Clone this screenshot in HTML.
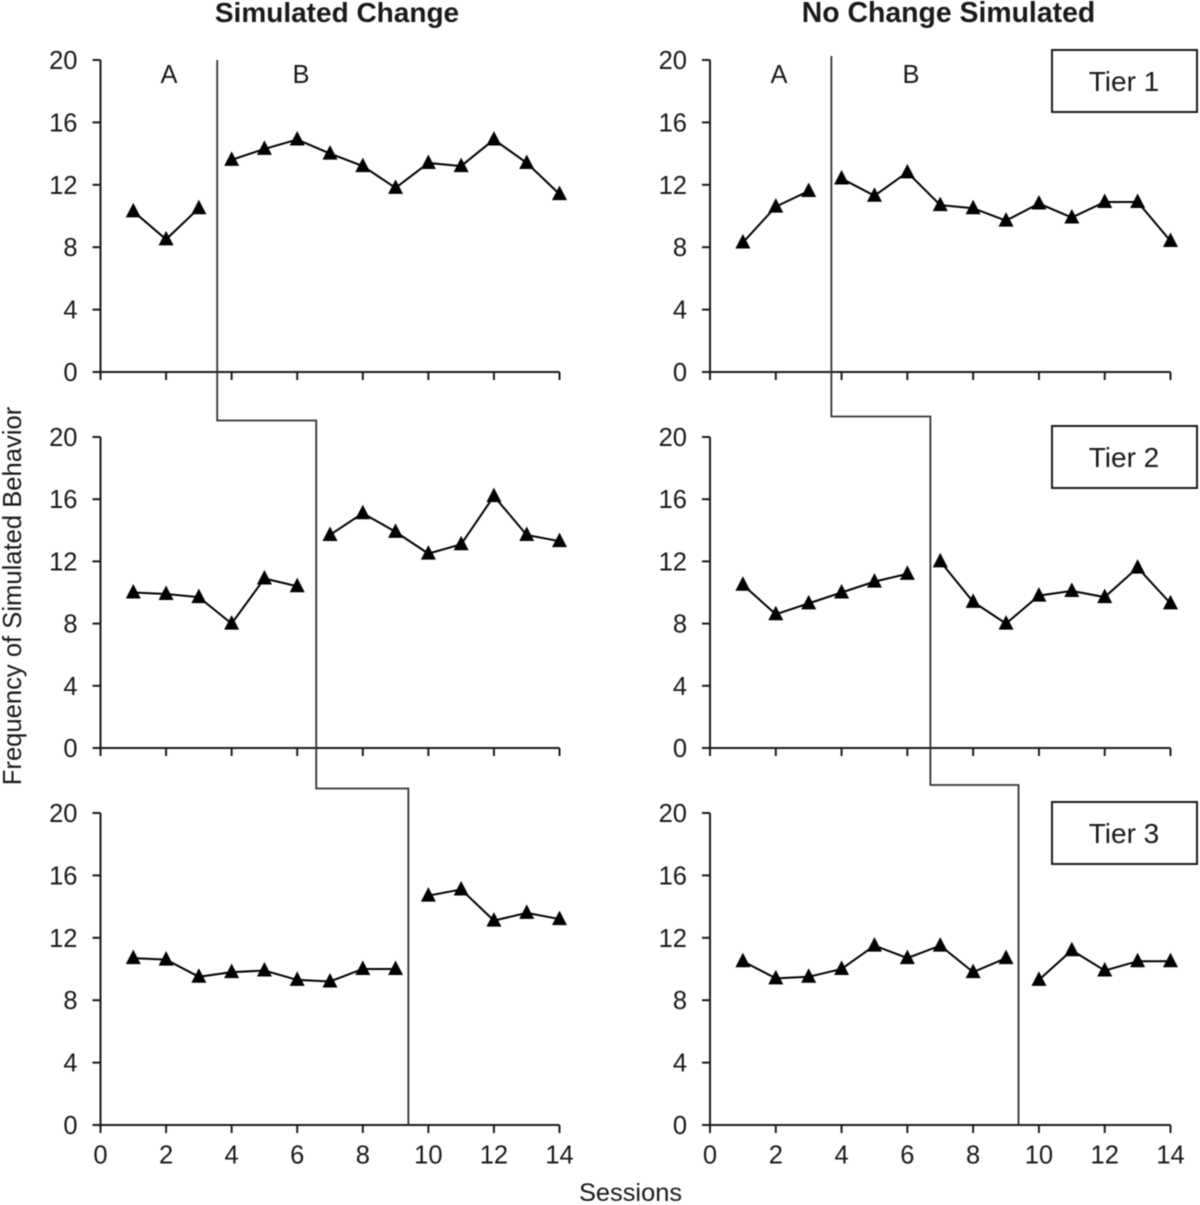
<!DOCTYPE html>
<html lang="en">
<head>
<meta charset="utf-8">
<title>Multiple baseline chart</title>
<style>
html,body{margin:0;padding:0;background:#fff;}
svg{display:block;filter:blur(0.4px);}
text{font-family:"Liberation Sans",Arial,sans-serif;fill:#1a1a1a;}
</style>
</head>
<body>
<svg id="chart" xmlns="http://www.w3.org/2000/svg" width="1200" height="1205" viewBox="0 0 1200 1205">
<rect x="0" y="0" width="1200" height="1205" fill="#fff"/>
<text x="337" y="22" font-size="28" font-weight="bold" text-anchor="middle">Simulated Change</text>
<text x="948.5" y="22" font-size="28.4" font-weight="bold" text-anchor="middle">No Change Simulated</text>
<text transform="translate(21,596) rotate(-90)" font-size="25.6" text-anchor="middle">Frequency of Simulated Behavior</text>
<text x="630.5" y="1201" font-size="25.4" text-anchor="middle">Sessions</text>
<g><rect x="1052" y="50" width="145" height="62" fill="#fff" stroke="#1a1a1a" stroke-width="2"/><text x="1124" y="91" font-size="28" text-anchor="middle">Tier 1</text></g>
<g><rect x="1052" y="426" width="145" height="62" fill="#fff" stroke="#1a1a1a" stroke-width="2"/><text x="1124" y="467" font-size="28" text-anchor="middle">Tier 2</text></g>
<g><rect x="1052" y="802" width="145" height="62" fill="#fff" stroke="#1a1a1a" stroke-width="2"/><text x="1124" y="843" font-size="28" text-anchor="middle">Tier 3</text></g>
<text x="169" y="83" font-size="25.5" text-anchor="middle">A</text>
<text x="301" y="83" font-size="25.5" text-anchor="middle">B</text>
<text x="779" y="83" font-size="25.5" text-anchor="middle">A</text>
<text x="911" y="83" font-size="25.5" text-anchor="middle">B</text>
</svg>
<script>
const sessions = [1,2,3,4,5,6,7,8,9,10,11,12,13,14];
const xTicks = [0,2,4,6,8,10,12,14];
const yTicks = [0,4,8,12,16,20];

const leftTier1 = [10.3,8.5,10.5,13.6,14.3,14.9,14.0,13.2,11.8,13.4,13.2,14.9,13.4,11.4];
const leftTier2 = [10.0,9.9,9.7,8.0,10.9,10.4,13.7,15.1,13.9,12.5,13.1,16.2,13.7,13.3];
const leftTier3 = [10.7,10.6,9.5,9.8,9.9,9.3,9.2,10.0,10.0,14.7,15.1,13.1,13.6,13.2];
const rightTier1 = [8.3,10.6,11.6,12.4,11.3,12.8,10.7,10.5,9.7,10.8,9.9,10.9,10.9,8.4];
const rightTier2 = [10.5,8.6,9.3,10.0,10.7,11.2,12.0,9.4,8.0,9.8,10.1,9.7,11.6,9.3];
const rightTier3 = [10.5,9.4,9.5,10.0,11.5,10.7,11.5,9.8,10.7,9.3,11.2,9.9,10.5,10.5];

// number of baseline sessions per tier, and where each phase line falls on the session axis
const baselineLengths = [3,6,9];
const leftPhaseLines = [3.56,6.58,9.39];
const rightPhaseLines = [3.69,6.7,9.38];

const svg = document.getElementById('chart');
const NS = 'http://www.w3.org/2000/svg';
const INK = '#1a1a1a';
const columns = [{side:'left', x0:100.5, x14:559.5, top:60, phase:leftPhaseLines, drop:[420.5,788.5], series:[leftTier1,leftTier2,leftTier3]},
                 {side:'right', x0:710, x14:1170.5, top:56, phase:rightPhaseLines, drop:[416.5,785], series:[rightTier1,rightTier2,rightTier3]}];
const tiers = [{top:60,bottom:372},{top:437,bottom:748},{top:813,bottom:1125}];

function make(tag, attrs, parent){
  const el = document.createElementNS(NS, tag);
  for (const k in attrs) el.setAttribute(k, attrs[k]);
  parent.appendChild(el);
  return el;
}
function xScale(col, v){ return col.x0 + (col.x14 - col.x0) * v / 14; }
function yScale(t, v){ return t.bottom - (t.bottom - t.top) * v / 20; }

columns.forEach(function(col){
  tiers.forEach(function(t, ti){
    const panel = make('g', {}, svg);
    
    

    const yAxis = make('line', {x1:col.x0, x2:col.x0, y1:t.top, y2:t.bottom, stroke:INK, 'stroke-width':2}, panel);
    
    
    const xAxis = make('line', {x1:col.x0 - 8, x2:xScale(col,14), y1:t.bottom, y2:t.bottom, stroke:INK, 'stroke-width':2}, panel);
    
    

    yTicks.forEach(function(v){
      const y = yScale(t, v);
      const tick = make('line', {x1:col.x0 - 8, x2:col.x0, y1:y, y2:y, stroke:INK, 'stroke-width':2}, panel);
      
      
      const lab = make('text', {x:col.x0 - 23, y:y + 9, 'font-size':25.5, 'text-anchor':'end'}, panel);
      
      
      lab.textContent = v;
    });

    xTicks.forEach(function(v){
      const x = xScale(col, v);
      const tick = make('line', {x1:x, x2:x, y1:t.bottom, y2:t.bottom + 8, stroke:INK, 'stroke-width':2}, panel);
      
      
      if (ti === 2) {
        const lab = make('text', {x:x, y:1163.5, 'font-size':25.5, 'text-anchor':'middle'}, panel);
        
        
        lab.textContent = v;
      }
    });

    const values = col.series[ti];
    const split = baselineLengths[ti];
    [[0, split], [split, sessions.length]].forEach(function(range, pi){
      const pts = [];
      for (let i = range[0]; i < range[1]; i++) {
        pts.push(xScale(col, sessions[i]) + ',' + yScale(t, values[i]));
      }
      const line = make('polyline', {points:pts.join(' '), fill:'none', stroke:'#000', 'stroke-width':2}, panel);
      
      
    });
    sessions.forEach(function(s, i){
      const x = xScale(col, s), y = yScale(t, values[i]);
      const mark = make('polygon', {points:(x - 7.5) + ',' + (y + 6) + ' ' + (x + 7.5) + ',' + (y + 6) + ' ' + x + ',' + (y - 8.5), fill:'#000'}, panel);
      
      
    });
  });

  const p = col.phase.map(function(v){ return xScale(col, v); });
  const stepPts = [[p[0],col.top],[p[0],col.drop[0]],[p[1],col.drop[0]],[p[1],col.drop[1]],[p[2],col.drop[1]],[p[2],tiers[2].bottom]];
  const step = make('polyline', {points:stepPts.map(function(q){return q.join(',');}).join(' '), fill:'none', stroke:'#333', 'stroke-width':1.8}, svg);
  
  
});
</script>
</body>
</html>
